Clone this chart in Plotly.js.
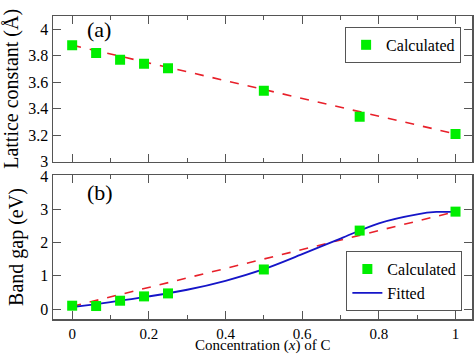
<!DOCTYPE html>
<html>
<head>
<meta charset="utf-8">
<script src="https://cdn.plot.ly/plotly-3.0.1.min.js"></script>
<style>html,body{margin:0;padding:0;background:#fff}#chart{width:474px;height:356px}</style>
</head>
<body>
<div id="chart"></div>
<script>
// Concentration x of C
var concentration = [0, 0.0625, 0.125, 0.1875, 0.25, 0.5, 0.75, 1];
// (a) lattice constant (Å), calculated
var latticeCalc = [3.88, 3.82, 3.77, 3.74, 3.705, 3.535, 3.34, 3.21];
// (a) linear dashed line endpoints
var latticeLineX = [0, 1];
var latticeLineY = [3.88, 3.21];
// (b) band gap (eV), calculated
var gapCalc = [0.10, 0.09, 0.25, 0.38, 0.47, 1.19, 2.36, 2.93];
// (b) linear dashed line endpoints
var gapLineX = [0, 1];
var gapLineY = [0.08, 2.93];
// (b) fitted curve
var fitX = [0, 0.1, 0.2, 0.3, 0.4, 0.5, 0.6, 0.7, 0.8, 0.9, 0.95, 1];
var fitY = [0.06, 0.21, 0.38, 0.58, 0.85, 1.2, 1.65, 2.12, 2.58, 2.85, 2.92, 2.92];

var serif = "'Liberation Serif', 'Times New Roman', Times, serif";
var frame = "#555555";
var green = "#00ee00";

var traces = [
  {x: latticeLineX, y: latticeLineY, mode: "lines", xaxis: "x2", yaxis: "y2",
   line: {color: "#e8202a", width: 1.6, dash: "dash"}, showlegend: false, hoverinfo: "skip"},
  {x: concentration, y: latticeCalc, mode: "markers", name: "Calculated", xaxis: "x2", yaxis: "y2",
   marker: {symbol: "square", size: 10, color: green}, legend: "legend"},
  {x: gapLineX, y: gapLineY, mode: "lines", xaxis: "x", yaxis: "y",
   line: {color: "#e8202a", width: 1.6, dash: "dash"}, showlegend: false, hoverinfo: "skip"},
  {x: fitX, y: fitY, mode: "lines", name: "Fitted", xaxis: "x", yaxis: "y",
   line: {color: "#1515c8", width: 1.8, shape: "spline", smoothing: 1}, legend: "legend2"},
  {x: concentration, y: gapCalc, mode: "markers", name: "Calculated", xaxis: "x", yaxis: "y",
   marker: {symbol: "square", size: 10, color: green}, legend: "legend2"}
];

var axisCommon = {
  showline: true, mirror: "ticks", linecolor: frame, linewidth: 1.5,
  ticks: "inside", ticklen: 8, tickwidth: 1, tickcolor: frame,
  showgrid: false, zeroline: false,
  tickfont: {family: serif, size: 16, color: "#000"}
};

var layout = {
  width: 474, height: 356,
  margin: {l: 53, r: 2, t: 16, b: 37},
  paper_bgcolor: "#fff", plot_bgcolor: "#fff",
  font: {family: serif, color: "#000"},
  xaxis: Object.assign({}, axisCommon, {
    anchor: "y", range: [-0.05, 1.043], dtick: 0.2, tick0: 0,
    minor: {dtick: 0.1, tick0: 0, ticks: "inside", ticklen: 4, tickcolor: frame, showgrid: false},
    tickfont: {family: serif, size: 15, color: "#000"}
  }),
  xaxis2: Object.assign({}, axisCommon, {
    anchor: "y2", matches: "x", range: [-0.05, 1.043], dtick: 0.2, tick0: 0,
    minor: {dtick: 0.1, tick0: 0, ticks: "inside", ticklen: 4, tickcolor: frame, showgrid: false},
    showticklabels: false
  }),
  yaxis: Object.assign({}, axisCommon, {
    domain: [0, 0.475], range: [-0.3, 4.03], dtick: 1, tick0: 0,
    title: {text: "Band gap (eV)", font: {family: serif, size: 20}, standoff: 11}
  }),
  yaxis2: Object.assign({}, axisCommon, {
    domain: [0.519, 1], range: [3, 4.1], dtick: 0.2, tick0: 3,
    title: {text: "Lattice constant (Å)", font: {family: serif, size: 20}, standoff: 7}
  }),
  legend: {
    x: 0.974, y: 0.964, xanchor: "right", yanchor: "top",
    bgcolor: "#fff", bordercolor: frame, borderwidth: 1,
    font: {family: serif, size: 16, color: "#000"}
  },
  legend2: {
    x: 0.977, y: 0.026, xanchor: "right", yanchor: "bottom",
    bgcolor: "#fff", bordercolor: frame, borderwidth: 1, tracegroupgap: 0,
    traceorder: "reversed",
    font: {family: serif, size: 16, color: "#000"}
  },
  annotations: [
    {text: "(a)", xref: "paper", yref: "paper", x: 0.11, y: 0.957, showarrow: false,
     xanchor: "center", yanchor: "middle", font: {family: serif, size: 22}},
    {text: "(b)", xref: "paper", yref: "paper", x: 0.113, y: 0.419, showarrow: false,
     xanchor: "center", yanchor: "middle", font: {family: serif, size: 22}},
    {text: "Concentration (<i>x</i>) of C", xref: "paper", yref: "paper", x: 0.5, y: -0.089,
     showarrow: false, xanchor: "center", yanchor: "middle", font: {family: serif, size: 15}}
  ],
  showlegend: true
};

Plotly.newPlot("chart", traces, layout, {displayModeBar: false, staticPlot: true});
</script>
</body>
</html>
